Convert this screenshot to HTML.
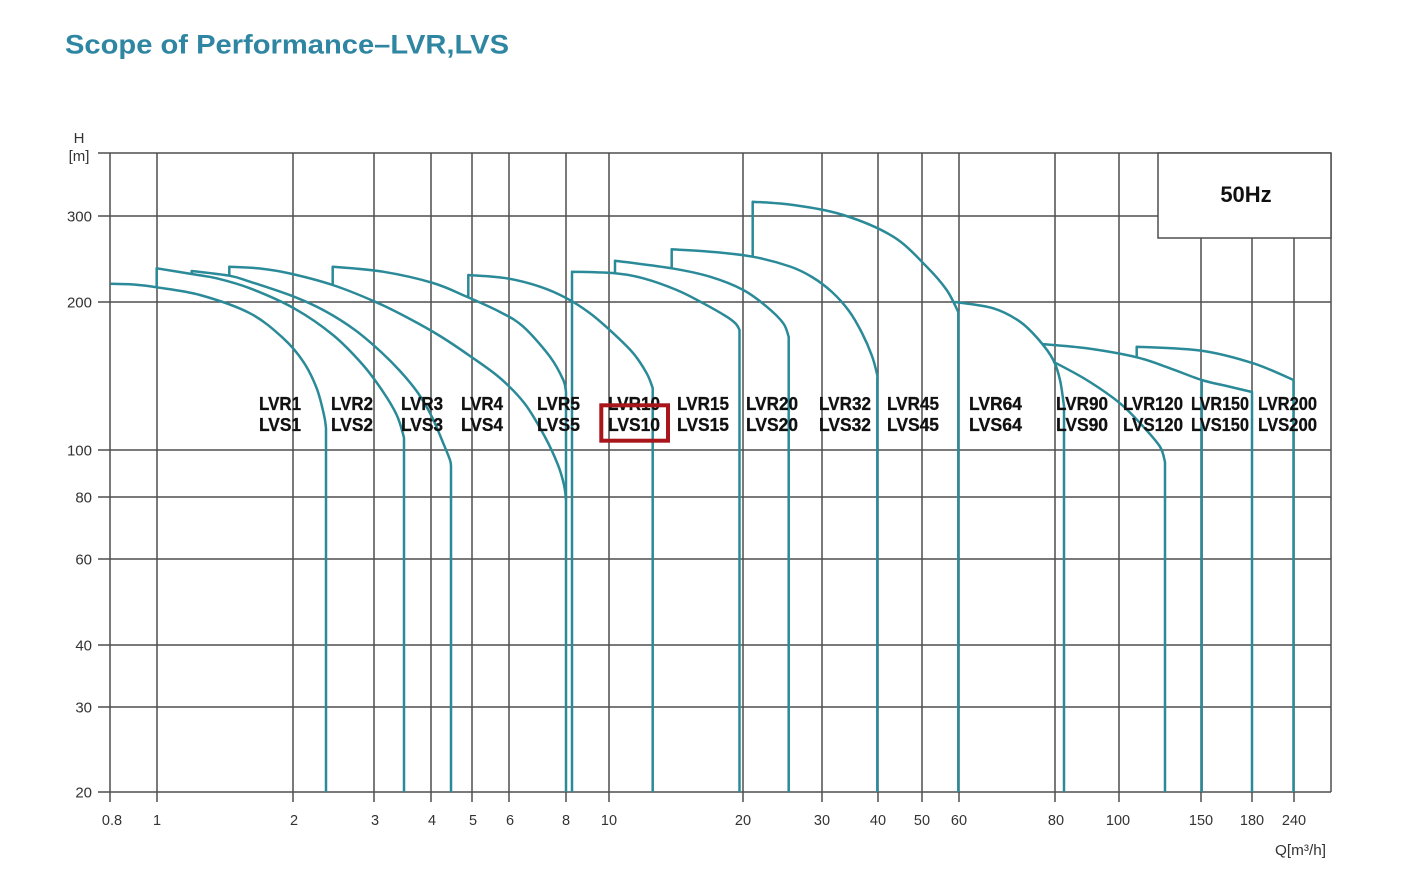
<!DOCTYPE html>
<html><head><meta charset="utf-8"><style>
html,body{margin:0;padding:0;background:#fff;}
svg{display:block;}
</style></head><body>
<svg id="chart" width="1414" height="878" viewBox="0 0 1414 878" xmlns="http://www.w3.org/2000/svg">
<rect width="1414" height="878" fill="#fff"/>
<text x="65" y="53.5" font-family="Liberation Sans, Arial, sans-serif" font-weight="bold" font-size="26.5" fill="#2f86a2" textLength="444" lengthAdjust="spacingAndGlyphs">Scope of Performance–LVR,LVS</text>

<g stroke="#4e4e4e" stroke-width="1.5" fill="none">
<line x1="98" y1="153" x2="1331" y2="153"/>
<line x1="98" y1="216" x2="1158" y2="216"/>
<line x1="98" y1="302" x2="1331" y2="302"/>
<line x1="98" y1="450" x2="1331" y2="450"/>
<line x1="98" y1="497" x2="1331" y2="497"/>
<line x1="98" y1="559" x2="1331" y2="559"/>
<line x1="98" y1="645" x2="1331" y2="645"/>
<line x1="98" y1="707" x2="1331" y2="707"/>
<line x1="98" y1="792" x2="1331" y2="792"/>
<line x1="110" y1="153" x2="110" y2="802"/>
<line x1="157" y1="153" x2="157" y2="802"/>
<line x1="293" y1="153" x2="293" y2="802"/>
<line x1="374" y1="153" x2="374" y2="802"/>
<line x1="431" y1="153" x2="431" y2="802"/>
<line x1="472" y1="153" x2="472" y2="802"/>
<line x1="509" y1="153" x2="509" y2="802"/>
<line x1="566" y1="153" x2="566" y2="802"/>
<line x1="609" y1="153" x2="609" y2="802"/>
<line x1="743" y1="153" x2="743" y2="802"/>
<line x1="822" y1="153" x2="822" y2="802"/>
<line x1="878" y1="153" x2="878" y2="802"/>
<line x1="922" y1="153" x2="922" y2="802"/>
<line x1="959" y1="153" x2="959" y2="802"/>
<line x1="1055" y1="153" x2="1055" y2="802"/>
<line x1="1119" y1="153" x2="1119" y2="802"/>
<line x1="1201" y1="238" x2="1201" y2="802"/>
<line x1="1252" y1="238" x2="1252" y2="802"/>
<line x1="1294" y1="238" x2="1294" y2="802"/>
<line x1="1331" y1="153" x2="1331" y2="792"/>
<rect x="1158" y="153" width="173" height="85" fill="#fff"/>
</g>
<text x="1246" y="202" text-anchor="middle" font-family="Liberation Sans, Arial, sans-serif" font-weight="bold" font-size="22" fill="#111">50Hz</text>

<g id="curves" stroke="#2a8a98" stroke-width="2.5" fill="none" stroke-linejoin="round" stroke-linecap="butt">
<polyline points="110.7,283.7 135,284.6 156.7,287.3 200,295 250,313.3 283.3,338.3 303.3,361.7 316.7,388.3 324,415 326,428 326,792"/>
<polyline points="156.7,287.3 156.7,268.3 191.7,274 216.7,278.3 250,288.3 294,308.3 333,335 363,365 383,391.7 396.7,415 403.3,435 404,440 404,792"/>
<polyline points="191.7,274 191.7,271 229.3,275.7 250,281.7 294,296.7 325,311 355,330 380,351 400,371 418,393 432,417 444,445 450,460 451,466 451,792"/>
<polyline points="229.3,275.7 229.3,266.7 260,268.5 290,273.5 332.7,285 375,301.7 410,319 440,336 470,356 500,378 525,404 545,437 558,465 564,485 566,500"/>
<polyline points="332.7,285 332.7,266.7 383,271.7 433,283 466.7,296.7 500,312 523.3,326.7 550,356.7 563.3,380 566,392 566,792"/>
<polyline points="468.3,296.7 468.3,275 506.7,278.3 540,286.7 566.7,298.3 590,313.3 613.3,333.3 633.3,353.3 646.7,373.3 652.7,388 652.7,792"/>
<polyline points="572,792 572,271.7 615,273.3 643.3,278.3 676.7,290 703.3,303.3 726.7,316.7 736,324 739.5,330 739.5,792"/>
<polyline points="615,273.3 615,260.7 671.7,268.3 710,276.7 743.3,290 766.7,306.7 783.3,323.3 788.7,337 788.7,792"/>
<polyline points="671.7,268.3 671.7,249.3 710,251.7 752.7,256.7 790,266.5 812,277 832,292 849,311 862,333 872,356 877,374 877.3,378 877.3,792"/>
<polyline points="752.7,256.7 752.7,201.7 793.3,205 843.3,215 893.3,236.7 926.7,266.7 946.7,290 958.3,312 958.3,792"/>
<polyline points="955,302 993.3,308.3 1020,321.7 1039,340 1053.3,360 1060,380 1064,406 1064,792"/>
<polyline points="1053.3,361.7 1086.7,380 1120,403.3 1143.3,426.7 1160,446.7 1165,462 1165,792"/>
<polyline points="1041.7,344 1086.7,348.3 1136.7,357.3 1170,368.3 1201.7,380 1226.7,386 1252,392 1252,792"/>
<polyline points="1201.7,380 1201.7,792"/>
<polyline points="1136.7,357.3 1136.7,346.7 1201.7,350.7 1253.3,363.3 1293.5,380 1293.5,792"/>
</g>

<g font-family="Liberation Sans, Arial, sans-serif" font-size="15" fill="#333" text-anchor="end">
<text x="92" y="221.5">300</text>
<text x="92" y="307.5">200</text>
<text x="92" y="455.5">100</text>
<text x="92" y="502.5">80</text>
<text x="92" y="564.5">60</text>
<text x="92" y="650.5">40</text>
<text x="92" y="712.5">30</text>
<text x="92" y="797.5">20</text>
</g>
<text x="79" y="143" text-anchor="middle" font-family="Liberation Sans, Arial, sans-serif" font-size="15" fill="#333">H</text>
<text x="79" y="161" text-anchor="middle" font-family="Liberation Sans, Arial, sans-serif" font-size="15" fill="#333">[m]</text>

<g font-family="Liberation Sans, Arial, sans-serif" font-size="14.5" fill="#333" text-anchor="middle">
<text x="112" y="825">0.8</text>
<text x="157" y="825">1</text>
<text x="294" y="825">2</text>
<text x="375" y="825">3</text>
<text x="432" y="825">4</text>
<text x="473" y="825">5</text>
<text x="510" y="825">6</text>
<text x="566" y="825">8</text>
<text x="609" y="825">10</text>
<text x="743" y="825">20</text>
<text x="822" y="825">30</text>
<text x="878" y="825">40</text>
<text x="922" y="825">50</text>
<text x="959" y="825">60</text>
<text x="1056" y="825">80</text>
<text x="1118" y="825">100</text>
<text x="1201" y="825">150</text>
<text x="1252" y="825">180</text>
<text x="1294" y="825">240</text>
</g>
<text x="1275" y="855" font-family="Liberation Sans, Arial, sans-serif" font-size="15" fill="#333" textLength="51" lengthAdjust="spacingAndGlyphs">Q[m³/h]</text>

<g font-family="Liberation Sans, Arial, sans-serif" font-weight="bold" font-size="18" fill="#111" stroke="#111" stroke-width="0.3">
<text x="259" y="410" textLength="42" lengthAdjust="spacingAndGlyphs">LVR1</text>
<text x="259" y="431" textLength="42" lengthAdjust="spacingAndGlyphs">LVS1</text>
<text x="331" y="410" textLength="42" lengthAdjust="spacingAndGlyphs">LVR2</text>
<text x="331" y="431" textLength="42" lengthAdjust="spacingAndGlyphs">LVS2</text>
<text x="401" y="410" textLength="42" lengthAdjust="spacingAndGlyphs">LVR3</text>
<text x="401" y="431" textLength="42" lengthAdjust="spacingAndGlyphs">LVS3</text>
<text x="461" y="410" textLength="42" lengthAdjust="spacingAndGlyphs">LVR4</text>
<text x="461" y="431" textLength="42" lengthAdjust="spacingAndGlyphs">LVS4</text>
<text x="537" y="410" textLength="43" lengthAdjust="spacingAndGlyphs">LVR5</text>
<text x="537" y="431" textLength="43" lengthAdjust="spacingAndGlyphs">LVS5</text>
<text x="608" y="410" textLength="52" lengthAdjust="spacingAndGlyphs">LVR10</text>
<text x="608" y="431" textLength="52" lengthAdjust="spacingAndGlyphs">LVS10</text>
<text x="677" y="410" textLength="52" lengthAdjust="spacingAndGlyphs">LVR15</text>
<text x="677" y="431" textLength="52" lengthAdjust="spacingAndGlyphs">LVS15</text>
<text x="746" y="410" textLength="52" lengthAdjust="spacingAndGlyphs">LVR20</text>
<text x="746" y="431" textLength="52" lengthAdjust="spacingAndGlyphs">LVS20</text>
<text x="819" y="410" textLength="52" lengthAdjust="spacingAndGlyphs">LVR32</text>
<text x="819" y="431" textLength="52" lengthAdjust="spacingAndGlyphs">LVS32</text>
<text x="887" y="410" textLength="52" lengthAdjust="spacingAndGlyphs">LVR45</text>
<text x="887" y="431" textLength="52" lengthAdjust="spacingAndGlyphs">LVS45</text>
<text x="969" y="410" textLength="53" lengthAdjust="spacingAndGlyphs">LVR64</text>
<text x="969" y="431" textLength="53" lengthAdjust="spacingAndGlyphs">LVS64</text>
<text x="1056" y="410" textLength="52" lengthAdjust="spacingAndGlyphs">LVR90</text>
<text x="1056" y="431" textLength="52" lengthAdjust="spacingAndGlyphs">LVS90</text>
<text x="1123" y="410" textLength="60" lengthAdjust="spacingAndGlyphs">LVR120</text>
<text x="1123" y="431" textLength="60" lengthAdjust="spacingAndGlyphs">LVS120</text>
<text x="1191" y="410" textLength="58" lengthAdjust="spacingAndGlyphs">LVR150</text>
<text x="1191" y="431" textLength="58" lengthAdjust="spacingAndGlyphs">LVS150</text>
<text x="1258" y="410" textLength="59" lengthAdjust="spacingAndGlyphs">LVR200</text>
<text x="1258" y="431" textLength="59" lengthAdjust="spacingAndGlyphs">LVS200</text>
</g>

<rect x="601.3" y="405.3" width="66.7" height="35.4" fill="none" stroke="#a8161c" stroke-width="4"/>
</svg>
<script>
(function(){
  var NS="http://www.w3.org/2000/svg";
  var pls=document.querySelectorAll('#curves polyline');
  for(var k=0;k<pls.length;k++){
    var pl=pls[k];
    var raw=pl.getAttribute('points').trim().split(/\s+/).map(function(s){var a=s.split(',');return [parseFloat(a[0]),parseFloat(a[1])];});
    var d='M'+raw[0][0]+','+raw[0][1];
    var i=0,n=raw.length;
    while(i<n-1){
      if(Math.abs(raw[i+1][0]-raw[i][0])<0.01){ d+=' L'+raw[i+1][0]+','+raw[i+1][1]; i++; continue; }
      var j=i;
      while(j<n-1 && Math.abs(raw[j+1][0]-raw[j][0])>=0.01) j++;
      var run=raw.slice(i,j+1);
      for(var m=0;m<run.length-1;m++){
        var p0=run[m>0?m-1:0],p1=run[m],p2=run[m+1],p3=run[m+2<run.length?m+2:run.length-1];
        var c1x=p1[0]+(p2[0]-p0[0])/6,c1y=p1[1]+(p2[1]-p0[1])/6;
        var c2x=p2[0]-(p3[0]-p1[0])/6,c2y=p2[1]-(p3[1]-p1[1])/6;
        d+=' C'+c1x.toFixed(2)+','+c1y.toFixed(2)+' '+c2x.toFixed(2)+','+c2y.toFixed(2)+' '+p2[0]+','+p2[1];
      }
      i=j;
    }
    var p=document.createElementNS(NS,'path');
    p.setAttribute('d',d);
    pl.parentNode.replaceChild(p,pl);
  }
})();
</script>
</body></html>
